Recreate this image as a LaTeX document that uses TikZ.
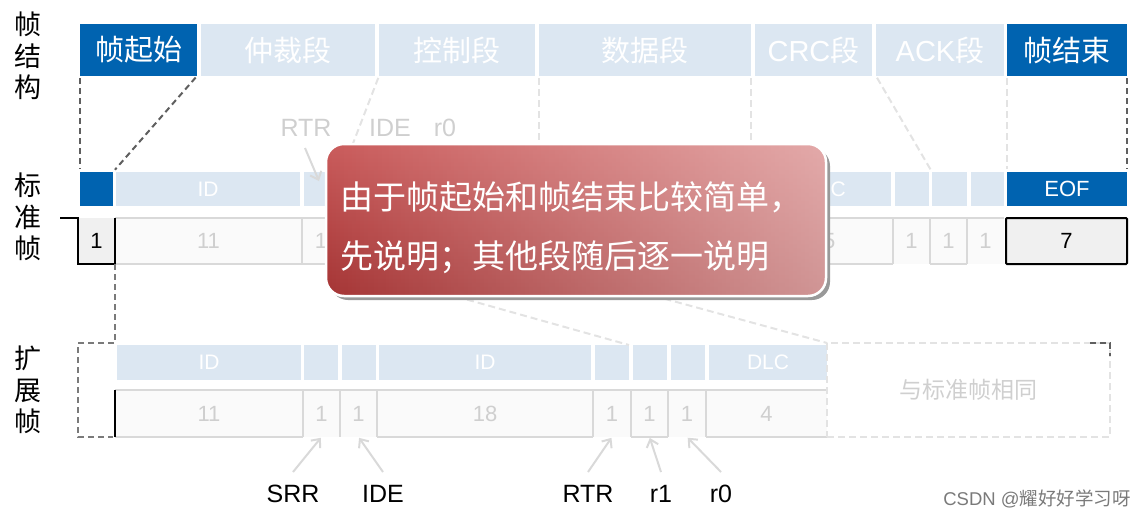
\documentclass[tikz,border=0pt]{standalone}
\usepackage{fontspec}
\setmainfont{Liberation Sans}
\newfontfamily\cjk{Noto Sans CJK SC}
\usetikzlibrary{arrows.meta,shadows,fadings}
\definecolor{dblue}{HTML}{0063B0}
\definecolor{lblue}{HTML}{DCE7F2}
\definecolor{vfill}{HTML}{FAFAFA}
\definecolor{vline}{HTML}{D9D9D9}
\definecolor{vtext}{HTML}{CFCFCF}
\definecolor{sofill}{HTML}{F0F0F0}
\definecolor{dkdash}{HTML}{5F5F5F}
\definecolor{mddash}{HTML}{7A7A7A}
\definecolor{ltdash}{HTML}{E3E3E3}
\definecolor{ctop}{HTML}{CA5C5C}
\definecolor{cbot}{HTML}{A53535}
\definecolor{wmark}{HTML}{7A7A7A}
\tikzfading[name=faderight, left color=transparent!100, right color=transparent!0]
\newcommand\fsz[1]{\fontsize{#1}{#1}\selectfont}
\newcommand\fcell[7]{\node[#1,minimum width=#5pt,minimum height=#6pt] (#2) at (#3,#4) {#7};}
\begin{document}
\begin{tikzpicture}[x=1pt,y=-1pt,
  base/.style={inner sep=0pt,outer sep=0pt,anchor=north west},
  topdark/.style={base,fill=dblue,text=white,font=\fsz{29}},
  toplight/.style={base,fill=lblue,text=white,font=\fsz{29}},
  namelight/.style={base,fill=lblue,text=white,font=\fsz{21}},
  namedark/.style={base,fill=dblue,text=white,font=\fsz{22}},
  valcell/.style={base,fill=vfill,text=vtext,font=\fsz{22}},
  blkcell/.style={base,fill=sofill,text=black,font=\fsz{22}},
  sidelabel/.style={font=\cjk\fontsize{27}{31.5}\selectfont,align=center,inner sep=0pt},
  wave/.style={draw=vline,line width=1.6pt},
  dkd/.style={draw=dkdash,line width=2pt,dash pattern=on 6pt off 4pt},
  mdd/.style={draw=mddash,line width=2pt,dash pattern=on 6pt off 4pt},
  ltd/.style={draw=ltdash,line width=2pt,dash pattern=on 7pt off 4pt},
  arr/.style={draw=vline,line width=2pt,-{Straight Barb[length=7pt,width=12pt]}},
  biglabel/.style={font=\fsz{25},inner sep=0pt},
  callout/.style={draw=white,line width=2.5pt,rounded corners=18pt,
    minimum width=500pt,minimum height=152pt,
    top color=ctop,bottom color=cbot,
    path picture={\fill[white,path fading=faderight,fill opacity=0.48]
      (path picture bounding box.south west) rectangle (path picture bounding box.north east);},
    drop shadow={shadow xshift=4pt,shadow yshift=-4pt,fill=black!40,opacity=1}},
  calltext/.style={font=\cjk\fsz{33},text=white,anchor=west,inner sep=0pt}
]
\useasboundingbox (0,0) rectangle (1148,517);

% side labels
\node[sidelabel] (lab1) at (28,56) {帧\\结\\构};
\node[sidelabel] (lab2) at (28,217) {标\\准\\帧};
\node[sidelabel] (lab3) at (28,390) {扩\\展\\帧};

% top row: frame structure
\fcell{topdark}{tSOF}{80}{24}{117}{52}{\cjk 帧起始}
\fcell{toplight}{tArb}{201}{24}{174}{52}{\cjk 仲裁段}
\fcell{toplight}{tCtl}{379}{24}{156}{52}{\cjk 控制段}
\fcell{toplight}{tData}{539}{24}{212}{52}{\cjk 数据段}
\fcell{toplight}{tCRC}{755}{24}{117}{52}{CRC{\cjk 段}}
\fcell{toplight}{tACK}{876}{24}{128}{52}{ACK{\cjk 段}}
\fcell{topdark}{tEOF}{1007}{24}{120}{52}{\cjk 帧结束}

% standard frame: names
\fcell{namedark}{sSOF}{80}{172}{33}{34}{}
\fcell{namelight}{sID}{116}{172}{184}{34}{ID}
\fcell{namelight}{sRTR}{304}{172}{34}{34}{}
\fcell{namelight}{sIDE}{342}{172}{34}{34}{}
\fcell{namelight}{sR0}{380}{172}{33}{34}{}
\fcell{namelight}{sDLC}{417}{172}{118}{34}{}
\fcell{namelight}{sData}{539}{172}{212}{34}{}
\fcell{namelight}{sCRC}{755}{172}{136}{34}{CRC}
\fcell{namelight}{sCDel}{895}{172}{34}{34}{}
\fcell{namelight}{sACK}{932}{172}{35}{34}{}
\fcell{namelight}{sADel}{971}{172}{33}{34}{}
\fcell{namedark}{sEOF}{1007}{172}{120}{34}{EOF}

% standard frame: values
\fcell{blkcell}{svSOF}{78}{218}{37}{46}{1}
\fcell{valcell}{svID}{115}{218}{187}{46}{11}
\fcell{valcell}{svRTR}{302}{218}{38}{46}{1}
\fcell{valcell}{svIDE}{340}{218}{37}{46}{}
\fcell{valcell}{svR0}{377}{218}{38}{46}{}
\fcell{valcell}{svDLC}{415}{218}{122}{46}{}
\fcell{valcell}{svData}{537}{218}{216}{46}{}
\fcell{valcell}{svCRC}{753}{218}{140}{46}{15}
\fcell{valcell}{svCDel}{893}{218}{37}{46}{1}
\fcell{valcell}{svACK}{930}{218}{37}{46}{1}
\fcell{valcell}{svADel}{967}{218}{37}{46}{1}
\node[blkcell,draw=black,line width=2pt,rounded corners=1pt,minimum width=121pt,minimum height=46pt] (svEOF) at (1006,218) {7};

% standard frame waveform
\draw[wave] (115,218) -- (1004,218);
\draw[wave] (115,264) -- (893,264);
\draw[wave] (930,264) -- (967,264);
\foreach \xx in {302,340,377,415,537,753,893,930,967}{\draw[wave] (\xx,218) -- (\xx,264);}
\draw[black,line width=2pt] (60,218) -- (78,218) -- (78,264) -- (115,264);
\draw[black,line width=1.6pt] (115,218) -- (115,264);

% extended frame: names
\fcell{namelight}{xID1}{117}{345}{184}{35}{ID}
\fcell{namelight}{xSRR}{304}{345}{34}{35}{}
\fcell{namelight}{xIDE}{342}{345}{34}{35}{}
\fcell{namelight}{xID2}{379}{345}{212}{35}{ID}
\fcell{namelight}{xRTR}{595}{345}{34}{35}{}
\fcell{namelight}{xR1}{633}{345}{34}{35}{}
\fcell{namelight}{xR0}{671}{345}{34}{35}{}
\fcell{namelight}{xDLC}{709}{345}{118}{35}{DLC}

% extended frame: values
\fcell{valcell}{xv1}{115}{390}{188}{47}{11}
\fcell{valcell}{xvSRR}{303}{390}{37}{47}{1}
\fcell{valcell}{xvIDE}{340}{390}{37}{47}{1}
\fcell{valcell}{xvID2}{377}{390}{216}{47}{18}
\fcell{valcell}{xvRTR}{593}{390}{38}{47}{1}
\fcell{valcell}{xvR1}{631}{390}{37}{47}{1}
\fcell{valcell}{xvR0}{668}{390}{38}{47}{1}
\fcell{valcell}{xvDLC}{706}{390}{121}{47}{4}
\draw[wave] (115,390) -- (827,390);
\draw[wave] (115,437) -- (303,437);
\draw[wave] (377,437) -- (593,437);
\draw[wave] (631,437) -- (668,437);
\draw[wave] (706,437) -- (827,437);
\foreach \xx in {303,340,377,593,631,668,706}{\draw[wave] (\xx,390) -- (\xx,437);}
\draw[black,line width=1.6pt] (115,390) -- (115,437);

% same-as-standard box
\node[base,ltd,minimum width=283pt,minimum height=94pt,text=vtext,font=\cjk\fsz{23}] (xSame) at (827,343) {与标准帧相同};
\draw[dkd] (1090,343) -- (1110,343) -- (1110,356);

% dashed connectors top -> standard
\draw[dkd,shorten <=2pt,shorten >=3pt] (tSOF.south west) -- (sSOF.north west);
\draw[dkd,shorten <=2pt,shorten >=3pt] (tSOF.south east) -- (sSOF.north east);
\draw[ltd,shorten <=2pt,shorten >=3pt] (tCtl.south west) -- (sIDE.north west);
\draw[ltd,shorten <=2pt,shorten >=3pt] (tData.south west) -- (sData.north west);
\draw[ltd,shorten <=2pt,shorten >=3pt] (tData.south east) -- (sData.north east);
\draw[ltd,shorten <=2pt,shorten >=3pt] (tACK.south west) -- (sACK.north west);
\draw[ltd,shorten <=2pt,shorten >=3pt] (tEOF.south west) -- (sEOF.north west);
\draw[dkd,shorten <=2pt,shorten >=3pt] (tEOF.south east) -- (sEOF.north east);

% standard -> extended
\draw[ltd] (svRTR.south east) -- (xRTR.north east);
\draw[ltd] (svData.south west) -- (xSame.north west);
\draw[mdd] (svSOF.south east) -- (115,343) -- (78,343) -- (78,437) -- (113,437);

% labels of the standard frame
\node[biglabel,text=vtext] (lsRTR) at (306,128) {RTR};
\node[biglabel,text=vtext] (lsIDE) at (390,128) {IDE};
\node[biglabel,text=vtext] (lsR0) at (445,128) {r0};
\coordinate (asRTR) at (305,148);
\coordinate (hsRTR) at (319,181);
\draw[arr] (asRTR) -- (hsRTR);

% labels of the extended frame
\node[biglabel] (lSRR) at (293,494) {SRR};
\node[biglabel] (lIDE) at (383,494) {IDE};
\node[biglabel] (lRTR) at (588,494) {RTR};
\node[biglabel] (lR1) at (661,494) {r1};
\node[biglabel] (lR0) at (721,494) {r0};
\coordinate (aSRR) at (293,472);
\coordinate (aIDE) at (383,472);
\coordinate (aRTR) at (588,472);
\coordinate (aR1) at (661,472);
\coordinate (aR0) at (721,472);
\draw[arr,shorten >=1pt] (aSRR) -- (xvSRR.south);
\draw[arr,shorten >=1pt] (aIDE) -- (xvIDE.south);
\draw[arr,shorten >=1pt] (aRTR) -- (xvRTR.south);
\draw[arr,shorten >=1pt] (aR1) -- (xvR1.south);
\draw[arr,shorten >=1pt] (aR0) -- (xvR0.south);

% callout
\node[callout] (call) at (576,220) {};
\node[calltext] (cl1) at (340,197) {由于帧起始和帧结束比较简单，};
\node[calltext] (cl2) at (340,257) {先说明；其他段随后逐一说明};

% watermark
\node[font=\fsz{18.5},text=wmark,inner sep=0pt] (wm) at (1037,499) {CSDN @{\cjk 耀好好学习呀}};
\end{tikzpicture}
\end{document}
